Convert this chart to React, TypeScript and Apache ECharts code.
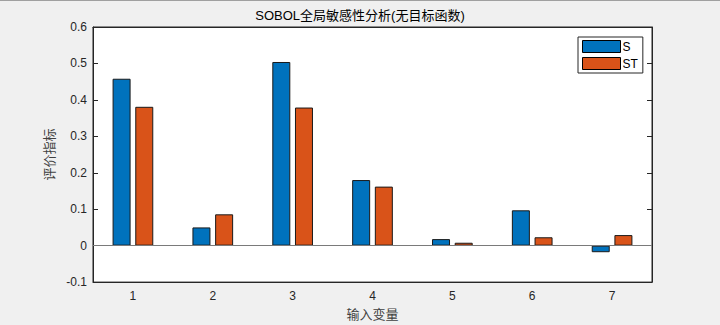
import React, { useEffect, useRef } from "react";
import * as echarts from "echarts";

const categories = ["1", "2", "3", "4", "5", "6", "7"];
const sValues = [0.458, 0.05, 0.504, 0.18, 0.018, 0.097, -0.018];
const stValues = [0.381, 0.086, 0.379, 0.162, 0.008, 0.023, 0.029];
const seriesNames = ["S", "ST"];
const titleText = "SOBOL全局敏感性分析(无目标函数)";
const xName = "输入变量";
const yName = "评价指标";

const AXIS = "#262626";
const FONT = "'Liberation Sans', Arial, 'Noto Sans CJK SC', sans-serif";

export default function App() {
  const ref = useRef<HTMLDivElement>(null);
  useEffect(() => {
    if (!ref.current) return;
    const chart = echarts.init(ref.current, undefined, { renderer: "svg", width: 720, height: 325 });
    const barStyle = (color: string) => ({
      color,
      borderColor: "#1a1a1a",
      borderWidth: 1,
    });
    chart.setOption({
      animation: false,
      backgroundColor: "#f0f0f0",
      textStyle: { fontFamily: FONT },
      title: {
        text: titleText,
        left: "center",
        top: 4,
        textStyle: { fontSize: 13, fontWeight: "normal", color: "#000", fontFamily: FONT },
      },
      graphic: [
        { type: "line", shape: { x1: 0, y1: 0.5, x2: 720, y2: 0.5 }, style: { stroke: "#a0a0a0", lineWidth: 1 } },
      ],
      legend: {
        orient: "vertical",
        left: 578,
        top: 37,
        padding: [3, 5, 3, 4],
        itemGap: 4,
        itemWidth: 38,
        itemHeight: 12,
        backgroundColor: "#fff",
        borderColor: AXIS,
        borderWidth: 1,
        borderRadius: 0,
        icon: "rect",
        itemStyle: { borderColor: "#000", borderWidth: 1 },
        textStyle: { fontSize: 12, color: "#000", fontFamily: FONT, lineHeight: 12, padding: [0, 0, 0, -3] },
        data: seriesNames,
      },
      grid: {
        left: 93,
        right: 68,
        top: 27,
        bottom: 42,
        show: true,
        backgroundColor: "#fff",
        borderColor: AXIS,
        borderWidth: 1,
      },
      xAxis: [
        {
          type: "category",
          data: categories,
          position: "bottom",
          name: xName,
          nameLocation: "middle",
          nameGap: 24,
          nameTextStyle: { fontSize: 13, color: "#404040", fontFamily: "'Noto Sans CJK SC', sans-serif" },
          axisLine: { onZero: false, lineStyle: { color: AXIS, width: 1 } },
          axisTick: { inside: true, alignWithLabel: true, length: 5, lineStyle: { color: AXIS } },
          axisLabel: { fontSize: 12, color: AXIS, margin: 8 },
          splitLine: { show: false },
        },
        {
          type: "category",
          data: categories,
          position: "top",
          axisLine: { onZero: false, lineStyle: { color: AXIS, width: 1 } },
          axisTick: { inside: true, alignWithLabel: true, length: 5, lineStyle: { color: AXIS } },
          axisLabel: { show: false },
          splitLine: { show: false },
        },
      ],
      yAxis: [
        {
          type: "value",
          min: -0.1,
          max: 0.6,
          interval: 0.1,
          position: "left",
          name: yName,
          nameLocation: "middle",
          nameGap: 37,
          nameRotate: 90,
          nameTextStyle: { fontSize: 13, color: "#404040", fontFamily: "'Noto Sans CJK SC', sans-serif" },
          axisLine: { show: true, lineStyle: { color: AXIS, width: 1 } },
          axisTick: { show: true, inside: true, length: 5, lineStyle: { color: AXIS } },
          axisLabel: {
            fontSize: 12,
            color: AXIS,
            margin: 6,
            formatter: (v: number) => String(+v.toFixed(1)),
          },
          splitLine: { show: false },
        },
        {
          type: "value",
          min: -0.1,
          max: 0.6,
          interval: 0.1,
          position: "right",
          axisLine: { show: true, lineStyle: { color: AXIS, width: 1 } },
          axisTick: { show: true, inside: true, length: 5, lineStyle: { color: AXIS } },
          axisLabel: { show: false },
          splitLine: { show: false },
        },
      ],
      series: [
        {
          name: seriesNames[0],
          type: "bar",
          data: sValues,
          barWidth: 18,
          barGap: "26%",
          itemStyle: barStyle("#0072BD"),
          markLine: {
            silent: true,
            symbol: "none",
            label: { show: false },
            lineStyle: { color: "#7a7a7a", type: "solid", width: 1 },
            data: [{ yAxis: 0 }],
          },
        },
        {
          name: seriesNames[1],
          type: "bar",
          data: stValues,
          barWidth: 18,
          barGap: "26%",
          itemStyle: barStyle("#D95319"),
        },
      ],
    });
    return () => chart.dispose();
  }, []);
  return (
    <div
      ref={ref}
      style={{ position: "absolute", left: 0, top: 0, width: 720, height: 325 }}
    />
  );
}
